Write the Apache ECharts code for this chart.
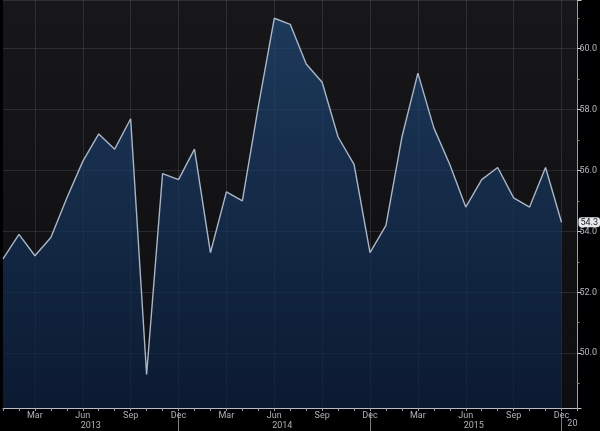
<!DOCTYPE html>
<html lang="en">
<head>
    <meta charset="UTF-8">
    <title>PMI</title>
    <style>
        html, body {
            margin: 0;
            padding: 0;
            background: #000;
        }

        #chart {
            width: 600px;
            height: 431px;
        }
    </style>
</head>
<body>
    <div id="chart"></div>
    <script src="https://cdn.jsdelivr.net/npm/echarts@6/dist/echarts.min.js"></script>
    <script>
        // months Jan 2013 .. Dec 2015, plus an empty Jan 2016 slot at the right edge
        var months = ['Jan', 'Feb', 'Mar', 'Apr', 'May', 'Jun', 'Jul', 'Aug', 'Sep', 'Oct', 'Nov', 'Dec'];
        var years = ['2013', '2014', '2015', '2016'];
        var values = [
            53.1, 53.9, 53.2, 53.8, 55.1, 56.3, 57.2, 56.7, 57.7, 49.3, 55.9, 55.7,
            56.7, 53.3, 55.3, 55.0, 58.1, 61.0, 60.8, 59.5, 58.9, 57.1, 56.2, 53.3,
            54.2, 57.1, 59.2, 57.4, 56.2, 54.8, 55.7, 56.1, 55.1, 54.8, 56.1, 54.3,
            null
        ];
        var yTicks = [50, 52, 54, 56, 58, 60];

        var cats = [];
        for (var i = 0; i < values.length; i++) {
            cats.push(months[i % 12]);
        }

        var chart = echarts.init(document.getElementById('chart'));
        var labelFont = "'Liberation Sans Narrow', 'Roboto', sans-serif";

        chart.setOption({
            backgroundColor: '#000',
            animation: false,
            grid: {
                left: 3,
                right: 21,
                top: 0,
                bottom: 22,
                show: true,
                backgroundColor: {
                    type: 'linear', x: 0, y: 0, x2: 0, y2: 1,
                    colorStops: [
                        { offset: 0, color: '#17171a' },
                        { offset: 1, color: '#0e0e10' }
                    ]
                },
                borderWidth: 0
            },
            xAxis: [{
                type: 'category',
                data: cats,
                boundaryGap: false,
                axisLine: { lineStyle: { color: '#b8bcc4', width: 1 } },
                axisTick: {
                    show: true,
                    length: 3,
                    interval: 0,
                    lineStyle: { color: '#9aa0a8' }
                },
                axisLabel: {
                    interval: function (idx) {
                        return idx % 3 === 2;
                    },
                    margin: 3,
                    color: '#aeb2b8',
                    fontSize: 9,
                    fontFamily: labelFont,
                    lineHeight: 10,
                    formatter: function (v, idx) {
                        if (idx % 12 === 5) return '{m|' + v + '}\n{y|' + years[Math.floor(idx / 12)] + '}';
                        return v;
                    },
                    rich: {
                        m: { color: '#aeb2b8', fontSize: 9, fontFamily: labelFont, lineHeight: 10 },
                        y: { color: '#aeb2b8', fontSize: 9, fontFamily: labelFont, lineHeight: 10, padding: [0, 0, 0, 16] }
                    }
                },
                splitLine: {
                    show: true,
                    interval: function (idx) {
                        return idx % 3 === 2;
                    },
                    lineStyle: { color: 'rgba(200,210,225,0.13)', width: 1 }
                }
            }, {
                // year separators below the month labels, and the clipped next-year label
                type: 'category',
                data: cats,
                boundaryGap: false,
                position: 'bottom',
                offset: 4,
                axisLine: { show: true, lineStyle: { color: 'rgba(0,0,0,0)' } },
                axisLabel: {
                    interval: function (idx) {
                        return idx === 36;
                    },
                    showMaxLabel: true,
                    margin: 7,
                    align: 'right',
                    width: 12,
                    overflow: 'truncate',
                    ellipsis: '',
                    color: '#aeb2b8',
                    fontSize: 9,
                    fontFamily: labelFont,
                    formatter: function () {
                        return years[3];
                    }
                },
                axisTick: {
                    show: true,
                    length: 20,
                    interval: function (idx) {
                        return idx % 12 === 11;
                    },
                    lineStyle: { color: '#7a7e86' }
                },
                splitLine: { show: false }
            }],
            yAxis: {
                type: 'value',
                position: 'right',
                min: 48.2,
                max: 61.6,
                minInterval: 2,
                maxInterval: 2,
                axisLine: { show: true, lineStyle: { color: '#9a9ea6', width: 1 } },
                axisTick: { show: true, length: 4, lineStyle: { color: '#c8ccd2' } },
                minorTick: { show: true, splitNumber: 2, length: 2, lineStyle: { color: '#8a8e96' } },
                axisLabel: {
                    showMinLabel: false,
                    showMaxLabel: false,
                    margin: 2,
                    color: '#b4b8be',
                    fontSize: 9,
                    fontFamily: labelFont,
                    formatter: function (v) {
                        return yTicks.indexOf(v) >= 0 ? v.toFixed(1) : '';
                    }
                },
                splitLine: {
                    show: true,
                    lineStyle: { color: 'rgba(200,210,225,0.13)', width: 1 }
                }
            },
            series: [{
                type: 'line',
                data: values,
                symbol: 'none',
                lineStyle: { color: '#a9b6c6', width: 1.4 },
                areaStyle: {
                    origin: 'start',
                    color: {
                        type: 'linear', x: 0, y: 0, x2: 0, y2: 1,
                        colorStops: [
                            { offset: 0, color: '#1f4877' },
                            { offset: 1, color: '#0a1f3f' }
                        ]
                    }
                },
                endLabel: {
                    show: true,
                    formatter: function (p) {
                        return p.value.toFixed(1);
                    },
                    distance: 17,
                    backgroundColor: '#e6e8ea',
                    borderRadius: 3,
                    padding: [1, 2, 0, 2],
                    color: '#222',
                    fontSize: 9,
                    fontFamily: labelFont
                }
            }]
        });
    </script>
</body>
</html>
